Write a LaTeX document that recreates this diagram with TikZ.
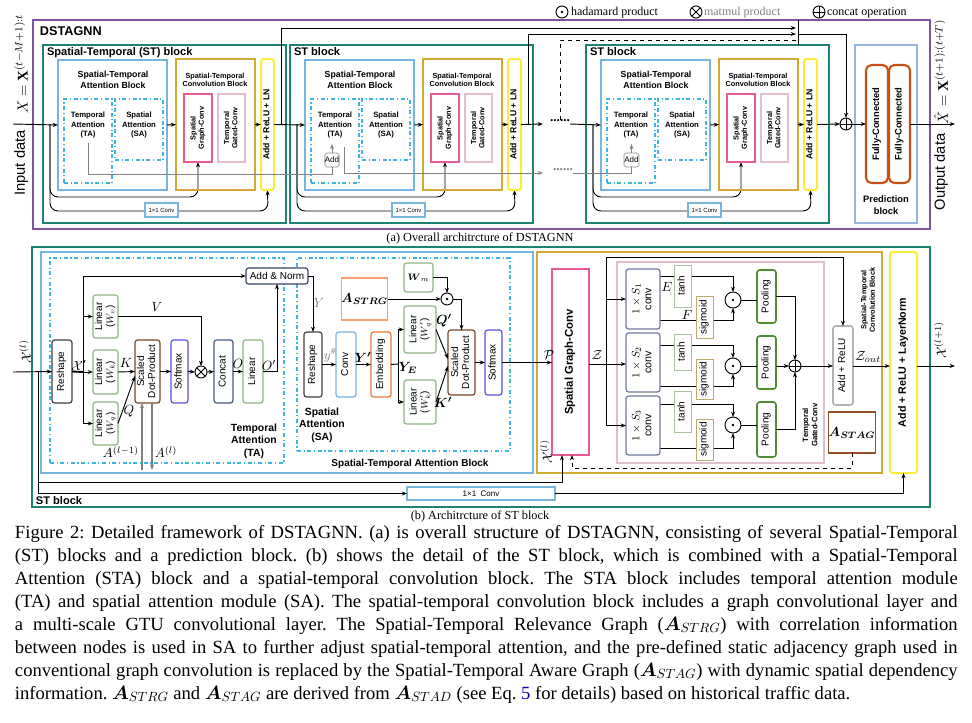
\documentclass[tikz,border=0pt]{standalone}
\usepackage{fontspec}
\usepackage{amsmath,amssymb,graphicx}
\setmainfont{Liberation Serif}
\setsansfont{Liberation Sans}
\usetikzlibrary{arrows.meta,backgrounds}
\definecolor{cpur}{RGB}{128,84,156}
\definecolor{cteal}{RGB}{30,130,115}
\definecolor{clb}{RGB}{120,180,220}
\definecolor{cgold}{RGB}{210,170,50}
\definecolor{cyel}{RGB}{250,235,60}
\definecolor{cpink}{RGB}{230,90,150}
\definecolor{clpink}{RGB}{225,190,205}
\definecolor{cdash}{RGB}{60,180,230}
\definecolor{cpred}{RGB}{150,180,225}
\definecolor{cfc}{RGB}{200,80,20}
\definecolor{cgreen}{RGB}{140,180,130}
\definecolor{cpool}{RGB}{80,140,50}
\definecolor{cbrown}{RGB}{120,70,40}
\definecolor{csmx}{RGB}{90,80,220}
\definecolor{ccat}{RGB}{70,90,130}
\definecolor{cemb}{RGB}{230,120,50}
\definecolor{cstrg}{RGB}{245,160,110}
\definecolor{csc}{RGB}{110,120,160}
\definecolor{ctanh}{RGB}{170,190,160}
\definecolor{csig}{RGB}{190,170,110}
\definecolor{cstag}{RGB}{150,80,40}
\newcommand\rbox[7][]{\node[#1,minimum width={(#4-#2)*0.75pt},minimum height={(#5-#3)*0.75pt}] (#6) at ({(#2+#4)/2},{(#3+#5)/2}) {#7};}
\newcommand\rvb[7][]{\rbox[#1]{#2}{#3}{#4}{#5}{#6}{\rotatebox{90}{\begin{tabular}{@{}c@{}}#7\end{tabular}}}}
\tikzset{
 every node/.style={inner sep=0pt,outer sep=0pt,align=center},
 bb/.style={draw,fill=white,line width=0.9pt},
 rb/.style={bb,rounded corners=2pt},
 pur/.style={draw=cpur,line width=2pt},
 stb/.style={draw=cteal,line width=1.6pt},
 sta/.style={draw=clb,line width=1.5pt},
 stc/.style={draw=cgold,line width=1.5pt},
 dd/.style={draw=cdash,line width=0.8pt,dash dot},
 ylb/.style={rb,draw=cyel,line width=1.5pt,font=\sffamily\bfseries\fontsize{6.5}{7}\selectfont},
 sgcb/.style={bb,draw=cpink,line width=1.5pt,font=\sffamily\bfseries\fontsize{5.5}{6.2}\selectfont},
 tgcb/.style={bb,draw=clpink,line width=1.5pt,font=\sffamily\bfseries\fontsize{5.5}{6.2}\selectfont},
 cvb/.style={draw=clb,fill=white,line width=1.2pt,font=\sffamily\fontsize{4.5}{5}\selectfont},
 addb/.style={draw=gray!50,fill=white,line width=1pt,rounded corners=2pt,font=\sffamily\fontsize{6}{7}\selectfont},
 ttl/.style={font=\sffamily\bfseries\fontsize{8.3}{9}\selectfont},
 stt/.style={font=\sffamily\bfseries\fontsize{5.8}{7}\selectfont},
 arr/.style={-{Stealth[length=4pt,width=3pt]},line width=0.7pt},
 ln/.style={line width=0.7pt},
 garr/.style={arr,draw=gray},
 btx/.style={font=\sffamily\fontsize{7.5}{8.2}\selectfont},
 lin/.style={rb,draw=cgreen,btx},
 rsh/.style={rb,draw=black!75,btx},
 sdp/.style={rb,draw=cbrown,btx},
 smx/.style={rb,draw=csmx,btx},
 catb/.style={rb,draw=ccat,btx},
 ml/.style={font=\fontsize{10}{11}\selectfont},
 oop/.style={circle,draw,fill=white,line width=0.7pt,minimum size=9pt},
 opl/.style={oop,path picture={\draw[black] (path picture bounding box.north)--(path picture bounding box.south) (path picture bounding box.east)--(path picture bounding box.west);}},
 otm/.style={oop,path picture={\draw[black] (path picture bounding box.north west)--(path picture bounding box.south east) (path picture bounding box.north east)--(path picture bounding box.south west);}},
 odt/.style={oop,path picture={\fill[black] (path picture bounding box.center) circle (1pt);}},
}
\newcommand\stblk[3]{%
\begin{scope}[shift={(#1,0)}]
\rbox[stb]{43}{45}{286}{223}{#2st}{}
\node[ttl,anchor=north west] (#2t) at (47,47) {#3};
\rbox[sta]{58}{60}{167}{190}{#2sta}{}
\node[stt,font=\sffamily\bfseries\fontsize{6.6}{7.8}\selectfont] (#2stat) at (113,80) {Spatial-Temporal\\Attention Block};
\rbox[dd]{64}{99}{112}{183}{#2ta}{}
\rbox[dd]{115}{99}{163}{160}{#2sa}{}
\node[stt] (#2tat) at (88,125) {Temporal\\Attention\\(TA)};
\node[stt] (#2sat) at (139,125) {Spatial\\Attention\\(SA)};
\rbox[stc]{176}{59}{255}{190}{#2stc}{}
\node[stt,font=\sffamily\bfseries\fontsize{5.5}{6.5}\selectfont] (#2stct) at (215,80) {Spatial-Temporal\\Convolution Block};
\rvb[sgcb]{184}{94}{212}{162}{#2sgc}{Spatial\\Graph-Conv}
\rvb[tgcb]{218}{94}{245}{162}{#2tgc}{Temporal\\Gated-Conv}
\rvb[ylb]{261}{59}{274}{190}{#2yl}{Add + ReLU + LN}
\coordinate (#2in) at (50,124);
\coordinate (#2out) at (281,124);
\begin{scope}[on background layer]
\draw[arr,rounded corners=6] (#2in) -- ++(0,73) -| (#2sgc.south);
\draw[arr,rounded corners=6] (#2in) -- ++(0,87) -- ++(218,0) -- (#2yl.south);
\end{scope}
\rbox[cvb]{145}{203}{178}{217}{#2cv}{1×1 Conv}
\draw[arr] (#2sta.east) -- (#2stc.west);
\draw[arr] (#2stc.east) -- (#2yl.west);
\end{scope}}
\begin{document}
\begin{tikzpicture}[x=0.75pt,y=-0.75pt]
\useasboundingbox (0,0) rectangle (972,722);
% ---------- legend
\node[odt] (lg1) at (562,12) {};
\node[anchor=west,font=\fontsize{9}{10}\selectfont] (lg1t) at (571,13) {hadamard product};
\node[otm] (lg2) at (696,12) {};
\node[anchor=west,font=\fontsize{9}{10}\selectfont,text=gray] (lg2t) at (704,13) {matmul product};
\node[opl] (lg3) at (819,12) {};
\node[anchor=west,font=\fontsize{9}{10}\selectfont] (lg3t) at (827,13) {concat operation};
% ---------- part (a)
\rbox[pur]{33}{20}{930}{229}{dst}{}
\node[ttl,font=\sffamily\bfseries\fontsize{9.5}{10}\selectfont,anchor=north west] (dstt) at (40,27) {DSTAGNN};
\stblk{0}{a}{Spatial-Temporal (ST) block}
\stblk{247}{b}{ST block}
\stblk{543}{c}{ST block}
\rbox[addb]{325}{153}{339}{167}{badd}{Add}
\rbox[addb]{624}{153}{639}{167}{cadd}{Add}
\draw[garr] (badd.north) -- ++(0,-9);
\draw[garr] (cadd.north) -- ++(0,-9);
\rbox[draw=cpred,line width=1.5pt]{855}{45}{917}{223}{pred}{}
\rvb[rb,draw=cfc,line width=1.6pt,rounded corners=4pt,font=\sffamily\bfseries\fontsize{7}{8}\selectfont]{866}{65}{888}{183}{fc1}{Fully-Connected}
\rvb[rb,draw=cfc,line width=1.6pt,rounded corners=4pt,font=\sffamily\bfseries\fontsize{7}{8}\selectfont]{889}{65}{910}{183}{fc2}{Fully-Connected}
\node[stt,font=\sffamily\bfseries\fontsize{7}{8.5}\selectfont] (predt) at (886,205) {Prediction\\block};
\node[opl] (cat) at (846,124) {};
\node[rotate=90,font=\sffamily\fontsize{11}{12}\selectfont] (inl) at (21,163) {Input data};
\node[rotate=90,font=\fontsize{11}{12}\selectfont] (inf) at (21,64) {$X=\mathbf{X}^{(t-M+1):t}$};
\node[rotate=90,font=\sffamily\fontsize{11}{12}\selectfont] (outl) at (941,172) {Output data};
\node[rotate=90,font=\fontsize{11}{12}\selectfont] (outf) at (941,72) {$\hat{X}=\mathbf{X}^{(t+1):(t+T)}$};
\coordinate (in0) at (13,124);
\coordinate (out0) at (955,124);
\draw[arr] (in0) -- (asta.west);
\draw[arr] (ayl.east) -- (bsta.west);
\coordinate (dd1) at (543,124);
\node[font=\bfseries] (dots1) at (560,121) {......};
\draw[arr] (byl.east) -- (dd1);
\draw[arr] (dots1.east |- dd1) -- (csta.west);
\coordinate (j1) at (796,28);
\coordinate (j2) at (796,34);
\coordinate (j3) at (798,40);
\coordinate (vt) at (798,20);
\coordinate (vb) at (798,45);
\draw[arr] (aout) |- (j1);
\draw[arr] (bout) |- (j2);
\draw[ln,dashed] (560,120) |- (j3);
\draw[ln] (vt) -- (vb);
\draw[arr] (798,34) -| (cat.north);
\draw[arr] (cyl.east) -- (cat.west);
\draw[arr] (cat.east) -- (fc1.west);
\draw[arr] (fc2.east) -- (out0);
\coordinate (ag) at (88,143);
\coordinate (bg) at (344,147);
\coordinate (gd) at (543,173);
\node[font=\bfseries,text=gray] (dots2) at (563,170) {......};
\draw[ln,draw=gray] (ag) -- ++(0,31) -| (badd.south);
\draw[garr] (bg) |- (gd);
\draw[ln,draw=gray] (dots2.east |- gd) -| (cadd.south);
\node[font=\fontsize{9.2}{10}\selectfont] (capa) at (480,238) {(a) Overall architrcture of DSTAGNN};
% ---------- part (b)
\rbox[stb]{32}{247}{930}{507}{bst}{}
\node[ttl,anchor=west] (bstt) at (36,501) {ST block};
\rbox[sta]{41}{252}{533}{473}{bsta}{}
\rbox[dd]{50}{258}{284}{463}{bta}{}
\rbox[dd]{297}{258}{510}{451}{bsa}{}
\rbox[stc]{537}{252}{882}{473}{bstc}{}
\rvb[ylb,font=\sffamily\bfseries\fontsize{8}{9}\selectfont]{890}{252}{917}{473}{bln}{Add + ReLU + LayerNorm}
\node[ttl,font=\sffamily\bfseries\fontsize{7.5}{8}\selectfont] (stabt) at (410,464) {Spatial-Temporal Attention Block};
\node[ttl,font=\sffamily\bfseries\fontsize{7.8}{9.5}\selectfont] (tabt) at (254,441) {Temporal\\Attention\\(TA)};
\node[ttl,font=\sffamily\bfseries\fontsize{7.8}{9.5}\selectfont] (sabt) at (322,425) {Spatial\\Attention\\(SA)};
\node[ttl,font=\sffamily\bfseries\fontsize{5.5}{6.5}\selectfont,rotate=90] (stcbt) at (868,300) {Spatial-Temporal\\Convolution Block};
% TA
\rvb[rsh]{52}{340}{72}{403}{trs}{Reshape}
\rvb[lin]{93}{295}{118}{338}{lv}{Linear\\($W_v$)}
\rvb[lin]{93}{350}{118}{394}{lk}{Linear\\($W_k$)}
\rvb[lin]{93}{402}{118}{445}{lq}{Linear\\($W_q$)}
\rvb[sdp]{135}{340}{160}{403}{tsd}{Scaled\\Dot-Product}
\rvb[smx]{171}{340}{188}{403}{tsm}{Softmax}
\node[otm] (mm) at (201,372) {};
\rvb[catb]{214}{340}{233}{403}{tcat}{Concat}
\rvb[lin]{243}{340}{263}{403}{tlin}{Linear}
\rbox[rb,draw=ccat!80!black,btx]{246}{268}{308}{284}{an}{Add \& Norm}
\coordinate (xin) at (13,372);
\coordinate (tsplit) at (38,372);
\coordinate (xp) at (83,372);
\node[rotate=90,ml] (xinl) at (25,352) {$\mathcal{X}^{(l)}$};
\draw[arr] (xin) -- (trs.west);
\draw[line width=1.4pt] (trs.east) -- (xp);
\draw[arr] (xp) -- (lk.west);
\draw[arr] (xp) |- (lv.west);
\draw[arr] (xp) |- (lq.west);
\draw[arr] (xp) |- (an.west);
\draw[arr] (lv.east) -| (mm.north);
\draw[arr] (lk.east) -- (tsd.west);
\draw[arr] (lq.east) -- (tsd.200);
\draw[arr] (tsd.east) -- (tsm.west);
\draw[arr] (tsm.east) -- (mm.west);
\draw[arr] (mm.east) -- (tcat.west);
\draw[arr] (tcat.east) -- (tlin.west);
\draw[arr] (tlin.east) -| (an.south);
\coordinate (a1) at (142,470);
\coordinate (a2) at (152,470);
\draw[garr,line width=1pt] (a1) -- (a1 |- tsd.south);
\draw[garr,line width=1pt] (a2 |- tsd.south) -- (a2);
\node[ml] (lx) at (79,365) {$\mathcal{X}'$};
\node[ml] (lK) at (126,363) {$K$};
\node[ml] (lQ) at (129,411) {$Q$};
\node[ml] (lV) at (157,307) {$V$};
\node[ml] (lO) at (238,364) {$O$};
\node[ml] (lO2) at (269,365) {$O'$};
\node[ml] (la1) at (121,452) {$A^{(l-1)}$};
\node[ml] (la2) at (166,452) {$A^{(l)}$};
% SA
\rvb[rsh]{304}{332}{322}{397}{srs}{Reshape}
\rvb[rb,draw=clb,btx]{336}{332}{356}{397}{scv}{Conv}
\rvb[rb,draw=cemb,btx]{371}{332}{391}{397}{semb}{Embedding}
\rvb[lin]{404}{306}{436}{353}{lqp}{Linear\\($W'_q$)}
\rvb[lin]{404}{380}{436}{424}{lkp}{Linear\\($W'_k$)}
\rbox[bb,draw=cstrg]{345}{278}{384}{320}{astrg}{$\boldsymbol{A}_{\boldsymbol{STRG}}$}
\rbox[lin]{404}{263}{433}{292}{wm}{$\boldsymbol{W}_m$}
\node[odt] (hd) at (447,299) {};
\rvb[sdp]{448}{330}{475}{395}{ssd}{Scaled\\Dot-Product}
\rvb[smx]{485}{330}{502}{395}{ssm}{Softmax}
\draw[arr] (an.east) -| (srs.north);
\node[ml,text=gray] (lY) at (319,303) {$Y$};
\draw[arr] (srs.east) -- (scv.west);
\draw[arr] (scv.east) -- (semb.west);
\coordinate (ye) at (398,364);
\draw[ln] (semb.east) -- (ye);
\draw[arr] (ye) |- (lqp.west);
\draw[arr] (ye) |- (lkp.west);
\draw[arr] (lqp.east) -- (ssd.165);
\draw[arr] (lkp.east) -- (ssd.195);
\draw[arr] (astrg.east) -- (hd.west);
\draw[arr] (wm.east) -| (hd.north);
\draw[arr] (hd.east) -| (ssd.north);
\draw[arr] (ssd.east) -- (ssm.west);
\node[ml,text=gray] (ly) at (330,355) {$y^{\#}$};
\node[ml] (lYp) at (363,357) {$\boldsymbol{Y'}$};
\node[ml] (lYE) at (408,368) {$\boldsymbol{Y_E}$};
\node[ml] (lQp) at (444,321) {$\boldsymbol{Q'}$};
\node[ml] (lKp) at (443,402) {$\boldsymbol{K'}$};
% STC
\rvb[bb,draw=cpink,line width=1.6pt,font=\sffamily\bfseries\fontsize{8.5}{9}\selectfont]{552}{269}{589}{455}{sgc}{Spatial Graph-Conv}
\rbox[draw=clpink,line width=1.6pt]{617}{262}{824}{463}{tgc}{}
\rvb[rb,draw=csc,font=\fontsize{8}{9}\selectfont]{626}{269}{660}{329}{c1}{$1\times S_1$\\\sffamily conv}
\rvb[rb,draw=csc,font=\fontsize{8}{9}\selectfont]{626}{333}{660}{392}{c2}{$1\times S_2$\\\sffamily conv}
\rvb[rb,draw=csc,font=\fontsize{8}{9}\selectfont]{626}{396}{660}{455}{c3}{$1\times S_3$\\\sffamily conv}
\rvb[rb,draw=cpool,line width=1.2pt,btx]{757}{270}{776}{323}{p1}{Pooling}
\rvb[rb,draw=cpool,line width=1.2pt,btx]{757}{336}{776}{389}{p2}{Pooling}
\rvb[rb,draw=cpool,line width=1.2pt,btx]{757}{402}{776}{457}{p3}{Pooling}
\node[odt,minimum size=12pt] (h1) at (733,300) {};
\node[odt,minimum size=12pt] (h2) at (733,366) {};
\node[odt,minimum size=12pt] (h3) at (733,425) {};
\node[opl] (opl) at (795,366) {};
\rvb[rb,draw=gray!60,line width=1.2pt,btx]{833}{326}{853}{405}{ar}{Add + ReLU}
\rbox[bb,draw=cstag,line width=1.2pt]{831}{412}{873}{453}{astag}{$\boldsymbol{A}_{\boldsymbol{STAG}}$}
\node[ttl,font=\sffamily\bfseries\fontsize{5.8}{6.8}\selectfont,rotate=90] (tgct) at (810,425) {Temporal\\Gated-Conv};
\coordinate (zs) at (606,364);
\coordinate (zt) at (606,257);
\coordinate (e1) at (660,276); \coordinate (f1) at (660,320);
\coordinate (e2) at (660,345); \coordinate (f2) at (660,386);
\coordinate (e3) at (660,404); \coordinate (f3) at (660,448);
\begin{scope}[on background layer]
\draw[arr] (e1) -| (h1.north); \draw[arr] (f1) -| (h1.south);
\draw[arr] (e2) -| (h2.north); \draw[arr] (f2) -| (h2.south);
\draw[arr] (e3) -| (h3.north); \draw[arr] (f3) -| (h3.south);
\end{scope}
\rvb[bb,draw=ctanh,btx,line width=0.7pt]{674}{265}{691}{307}{t1}{tanh}
\rvb[bb,draw=ctanh,btx,line width=0.7pt]{674}{334}{691}{370}{t2}{tanh}
\rvb[bb,draw=ctanh,btx,line width=0.7pt]{674}{391}{691}{432}{t3}{tanh}
\rvb[bb,draw=csig,btx,line width=0.7pt]{696}{296}{713}{338}{s1}{sigmoid}
\rvb[bb,draw=csig,btx,line width=0.7pt]{696}{359}{713}{399}{s2}{sigmoid}
\rvb[bb,draw=csig,btx,line width=0.7pt]{696}{419}{713}{460}{s3}{sigmoid}
\draw[arr] (ssm.east) -- (ssm.east -| sgc.west);
\node[ml] (lP) at (549,355) {$\mathcal{P}$};
\draw[ln] (sgc.east |- zs) -- (zs);
\node[ml] (lZ) at (597,355) {$\mathcal{Z}$};
\draw[arr] (zs) -- (zs -| c2.west);
\draw[arr] (zs) |- (c1.west);
\draw[arr] (zs) |- (c3.west);
\draw[arr] (zs) -- (zt) -| (ar.north);
\node[ml] (lE) at (667,287) {$E$};
\node[ml] (lF) at (687,315) {$F$};
\draw[ln] (h1.east) -- (h1.east -| p1.west);
\draw[ln] (h2.east) -- (h2.east -| p2.west);
\draw[ln] (h3.east) -- (h3.east -| p3.west);
\draw[arr] (p1.east) -| (opl.north);
\draw[arr] (p3.east) -| (opl.south);
\draw[arr] (opl.west -| p2.east) -- (opl.west);
\draw[arr] (opl.east) -- (opl.east -| ar.west);
\coordinate (zo) at (955,366);
\draw[arr] (ar.east |- zo) -- (zo -| bln.west);
\draw[arr] (bln.east |- zo) -- (zo);
\node[ml] (lZo) at (868,357) {$\mathcal{Z}_{out}$};
\node[ml,rotate=90] (lxo) at (940,340) {$\mathcal{X}^{(l+1)}$};
\node[ml,rotate=90] (lxl) at (546,452) {$\mathcal{X}^{(l)}$};
\coordinate (xl2) at (562,482);
\coordinate (dl) at (572,468);
\draw[arr] (tsplit) |- (xl2) -- (xl2 |- sgc.south);
\draw[arr,dashed] (astag.south) |- (dl) -- (dl |- sgc.south);
\rbox[cvb,font=\sffamily\fontsize{6}{7}\selectfont]{407}{487}{555}{500}{c11}{1×1\ \ Conv}
\draw[arr] (tsplit) |- (c11.west);
\draw[arr] (c11.east) -| (bln.south);
\node[font=\fontsize{9.2}{10}\selectfont] (capb) at (480,516) {(b) Architrcture of ST block};
% ---------- caption
\node[anchor=north west,text width=707pt,align=justify,font=\fontsize{13.95}{17.25}\selectfont] (cap) at (15,525) {\frenchspacing\hyphenpenalty=10000
Figure 2: Detailed framework of DSTAGNN. (a) is overall structure of DSTAGNN, consisting of several Spatial-Temporal\linebreak
(ST) blocks and a prediction block. (b) shows the detail of the ST block, which is combined with a Spatial-Temporal\linebreak
Attention (STA) block and a spatial-temporal convolution block. The STA block includes temporal attention module\linebreak
(TA) and spatial attention module (SA). The spatial-temporal convolution block includes a graph convolutional layer and\linebreak
a multi-scale GTU convolutional layer. The Spatial-Temporal Relevance Graph ($\boldsymbol{A}_{STRG}$) with correlation information\linebreak
between nodes is used in SA to further adjust spatial-temporal attention, and the pre-defined static adjacency graph used in\linebreak
conventional graph convolution is replaced by the Spatial-Temporal Aware Graph ($\boldsymbol{A}_{STAG}$) with dynamic spatial dependency\linebreak
information. $\boldsymbol{A}_{STRG}$ and $\boldsymbol{A}_{STAG}$ are derived from $\boldsymbol{A}_{STAD}$ (see Eq. \textcolor{blue!70!black}{5} for details) based on historical traffic data.};
\end{tikzpicture}
\end{document}
